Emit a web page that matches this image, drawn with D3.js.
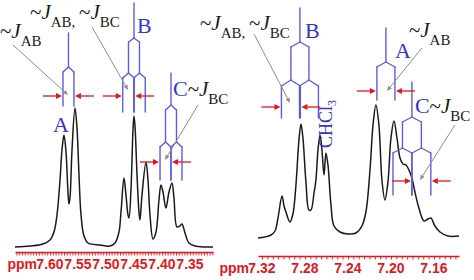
<!DOCTYPE html>
<html><head><meta charset="utf-8">
<script src="https://cdn.jsdelivr.net/npm/d3@7"></script>
<style>
html,body{margin:0;padding:0;background:#fff;}
svg{display:block;}
</style></head><body>
<svg id="c" width="474" height="280"></svg>
<script>
// ---------- data ----------
const leftPpm = [7.6625,7.6357,7.6125,7.6000,7.5929,7.5875,7.5821,7.5786,7.5750,7.5714,7.5679,7.5661,7.5643,7.5607,7.5554,7.5518,7.5482,7.5446,7.5393,7.5321,7.5107,7.4929,7.4839,7.4768,7.4732,7.4679,7.4643,7.4607,7.4589,7.4554,7.4518,7.4500,7.4482,7.4446,7.4411,7.4393,7.4357,7.4286,7.4250,7.4214,7.4161,7.4107,7.4054,7.4018,7.3982,7.3929,7.3875,7.3821,7.3786,7.3732,7.3679,7.3643,7.3589,7.3518,7.3411,7.3232,7.3089];
const leftInt = [-1,0,2,6,14,31,66,96,111,94,54,42,48,96,138,118,71,31,10,3,1,0,3,14,34,68,51,31,28,56,116,130,120,71,34,26,51,84,66,31,7,14,46,61,54,38,54,63,48,19,20,22,13,3,0,-1,-1];
const rightPpm = [7.3237,7.3172,7.3116,7.3079,7.3051,7.3014,7.2995,7.2977,7.2940,7.2912,7.2884,7.2856,7.2837,7.2819,7.2791,7.2763,7.2744,7.2716,7.2698,7.2679,7.2660,7.2642,7.2623,7.2605,7.2586,7.2558,7.2530,7.2474,7.2400,7.2326,7.2270,7.2233,7.2195,7.2167,7.2140,7.2112,7.2084,7.2056,7.2028,7.2000,7.1972,7.1944,7.1916,7.1888,7.1860,7.1833,7.1805,7.1777,7.1740,7.1693,7.1656,7.1628,7.1591,7.1544,7.1470,7.1367];
const rightInt = [-1,0,2,6,19,41,31,25,15,23,52,97,113,99,55,27,27,44,57,87,102,87,62,84,72,32,11,5,3,4,11,25,67,112,132,112,57,37,55,99,116,99,79,73,72,67,59,45,29,16,18,19,11,5,1,1];
const leftTicks = [7.60,7.55,7.50,7.45,7.40,7.35];
const rightTicks = [7.32,7.28,7.24,7.20,7.16];
const unitLabel = "ppm";

// multiplet trees: centre (ppm), half-splittings (ppm), tier extents (intensity units)
const leftTrees = [
  {center:7.5670, splits:[0.0098], tiers:[[213,179],[174,140]]},
  {center:7.4500, splits:[0.0098,0.0103], tiers:[[243,208],[204,173],[168,134]]},
  {center:7.3839, splits:[0.0098,0.0098], tiers:[[173,141],[136,104],[99,66]]}
];
const rightTrees = [
  {center:7.2847, splits:[0.0084,0.0088], tiers:[[229,195],[190,157],[151,119]]},
  {center:7.2047, splits:[0.0084], tiers:[[209,175],[170,137]]},
  {center:7.1805, splits:[0.0088,0.0088], tiers:[[155,120],[115,89],[84,42]]}
];
// J arrows: [left line ppm, right line ppm, intensity]
const leftJArrows = [[7.5768,7.5572,150],[7.4701,7.4495,150],[7.4035,7.3839,84]];
const rightJArrows = [[7.2131,7.1963,146],[7.3019,7.2843,130],[7.1805,7.1629,56]];
// pointers: [from ppm, from I, to ppm, to I]
const leftPointers = [[7.6661,201,7.5679,151],[7.5250,219,7.4607,156],[7.3357,141,7.3946,86]];
const rightPointers = [[7.3274,203,7.2940,134],[7.1712,189,7.2037,146],[7.1405,112,7.1730,57]];
// labels
const J_AB = [{t:"~"},{t:"J",i:1},{t:"AB",s:1}];
const J_AB_BC = [{t:"~"},{t:"J",i:1},{t:"AB, ",s:1},{t:"~"},{t:"J",i:1},{t:"BC",s:1}];
const C_J_BC = [{t:"C",b:1},{t:"~"},{t:"J",i:1},{t:"BC",s:1}];
const leftLabels = [
  {parts:J_AB, ppm:7.6893, I:208},
  {parts:J_AB_BC, ppm:7.6357, I:227},
  {parts:C_J_BC, ppm:7.3804, I:150},
  {parts:[{t:"B",b:1}], ppm:7.4446, I:213},
  {parts:[{t:"A",b:1}], ppm:7.5804, I:114, mid:1}
];
const rightLabels = [
  {parts:J_AB_BC, ppm:7.3777, I:207},
  {parts:[{t:"B",b:1}], ppm:7.2800, I:199},
  {parts:[{t:"A",b:1}], ppm:7.1888, I:179, mid:1},
  {parts:J_AB, ppm:7.1833, I:200},
  {parts:C_J_BC, ppm:7.1777, I:124}
];
const solvent = {ppm:7.2549, I:89};

// ---------- styles ----------
const RED="#e4161c", BLUE_L="#5c5ce2", BLUE_T="#3535c9", GRAY="#8d8d8d", BLACK="#1a1a1a";
const SERIF="'Liberation Serif','Times New Roman',serif";
const SANS="'Liberation Sans',Arial,sans-serif";

const svg = d3.select("#c");

function panel(cfg){
  const x = d3.scaleLinear().domain(cfg.domain).range(cfg.range);
  const y = d3.scaleLinear().domain([0,100]).range([cfg.base, cfg.base-100]);
  const g = svg.append("g");

  // axis with minor ticks
  const lo = Math.min(...cfg.domain), hi = Math.max(...cfg.domain);
  const minor = d3.range(Math.ceil(lo*200), Math.floor(hi*200)+1).map(k=>k/200);
  const ax = g.append("g").attr("transform",`translate(0,${cfg.axisY})`)
    .call(d3.axisBottom(x).tickValues(minor).tickSize(3.5).tickSizeOuter(0).tickFormat(""));
  ax.select(".domain").attr("stroke",RED).attr("stroke-width",1.4);
  ax.selectAll(".tick line").attr("stroke",RED).attr("stroke-width",0.9);

  g.selectAll("text.tl").data(cfg.ticks).join("text").attr("class","tl")
    .attr("x",d=>x(d)).attr("y",cfg.axisY+17).attr("text-anchor","middle")
    .attr("font-family",SANS).attr("font-size",14).attr("font-weight","bold").attr("fill",RED)
    .text(d=>d3.format(".2f")(d));
  g.append("text").attr("x",x(cfg.ticks[0])-13).attr("y",cfg.axisY+17).attr("text-anchor","end")
    .attr("font-family",SANS).attr("font-size",14).attr("font-weight","bold").attr("fill",RED)
    .text(unitLabel);

  // spectrum
  const line = d3.line().x(i=>x(cfg.ppm[i])).y(i=>y(cfg.int[i])).curve(d3.curveCatmullRom.alpha(0.5));
  g.append("path").attr("d",line(d3.range(cfg.ppm.length)))
    .attr("fill","none").attr("stroke",BLACK).attr("stroke-width",1.5).attr("stroke-linejoin","round");

  // trees
  cfg.trees.forEach(t=>{
    let pos=[t.center];
    const segs=[];
    t.tiers.forEach((tier,k)=>{
      if(k>0){
        const d=t.splits[k-1], np=[];
        pos.forEach(p=>{
          [p+d,p-d].forEach(c=>{ np.push(c); segs.push([p,t.tiers[k-1][1],c,tier[0]]); });
        });
        pos=np;
      }
      pos.forEach(p=>segs.push([p,tier[0],p,tier[1]]));
    });
    g.selectAll(null).data(segs).join("line")
      .attr("x1",s=>x(s[0])).attr("y1",s=>y(s[1])).attr("x2",s=>x(s[2])).attr("y2",s=>y(s[3]))
      .attr("stroke",BLUE_L).attr("stroke-width",1.4).attr("stroke-linecap","round");
  });

  // J arrows (red)
  const L=19;
  function arrow(xh, yy, dir){
    g.append("line").attr("x1",xh-dir*L).attr("y1",yy).attr("x2",xh-dir*4).attr("y2",yy)
      .attr("stroke",RED).attr("stroke-width",1.3);
    g.append("path").attr("d",`M${xh},${yy}L${xh-dir*6},${yy-3}L${xh-dir*6},${yy+3}Z`).attr("fill",RED);
  }
  cfg.jarrows.forEach(a=>{
    const yy=y(a[2]);
    arrow(x(a[0])-1, yy, 1);
    arrow(x(a[1])+1, yy, -1);
  });

  // grey pointers
  cfg.pointers.forEach(p=>{
    const x1=x(p[0]),y1=y(p[1]),x2=x(p[2]),y2=y(p[3]);
    const ang=Math.atan2(y2-y1,x2-x1), hl=5, hw=2.2;
    const bx=x2-hl*Math.cos(ang), by=y2-hl*Math.sin(ang);
    g.append("line").attr("x1",x1).attr("y1",y1).attr("x2",bx).attr("y2",by)
      .attr("stroke",GRAY).attr("stroke-width",1);
    g.append("path").attr("d",`M${x2},${y2}L${bx-hw*Math.sin(ang)},${by+hw*Math.cos(ang)}L${bx+hw*Math.sin(ang)},${by-hw*Math.cos(ang)}Z`)
      .attr("fill",GRAY);
  });

  // labels
  cfg.labels.forEach(lb=>{
    const tx=g.append("text").attr("x",x(lb.ppm)).attr("y",y(lb.I))
      .attr("font-family",SERIF).attr("font-size",21).attr("fill",BLACK)
      .attr("text-anchor",lb.mid?"middle":"start");
    let shifted=false;
    lb.parts.forEach(p=>{
      const ts=tx.append("tspan").text(p.t);
      if(p.s){ ts.attr("font-size",15); if(!shifted){ts.attr("dy",8); shifted=true;} }
      else { if(shifted){ts.attr("dy",-8); shifted=false;} }
      if(p.i) ts.attr("font-style","italic");
      if(p.b) ts.attr("fill",BLUE_T).attr("font-size",22);
    });
  });
  return {x,y,g};
}

panel({domain:[7.6625,7.3089], range:[15,213], base:246, axisY:252, ticks:leftTicks,
  ppm:leftPpm, int:leftInt, trees:leftTrees, jarrows:leftJArrows, pointers:leftPointers, labels:leftLabels});
const R = panel({domain:[7.3237,7.1367], range:[258,459], base:237, axisY:256, ticks:rightTicks,
  ppm:rightPpm, int:rightInt, trees:rightTrees, jarrows:rightJArrows, pointers:rightPointers, labels:rightLabels});

// solvent label (rotated)
const sx=R.x(solvent.ppm), sy=R.y(solvent.I);
const st=R.g.append("text").attr("transform",`translate(${sx},${sy}) rotate(-90)`)
  .attr("font-family",SERIF).attr("font-size",18).attr("fill",BLUE_T);
st.append("tspan").text("CHCl");
st.append("tspan").attr("font-size",12).attr("dy",4).text("3");
</script>
</body></html>
